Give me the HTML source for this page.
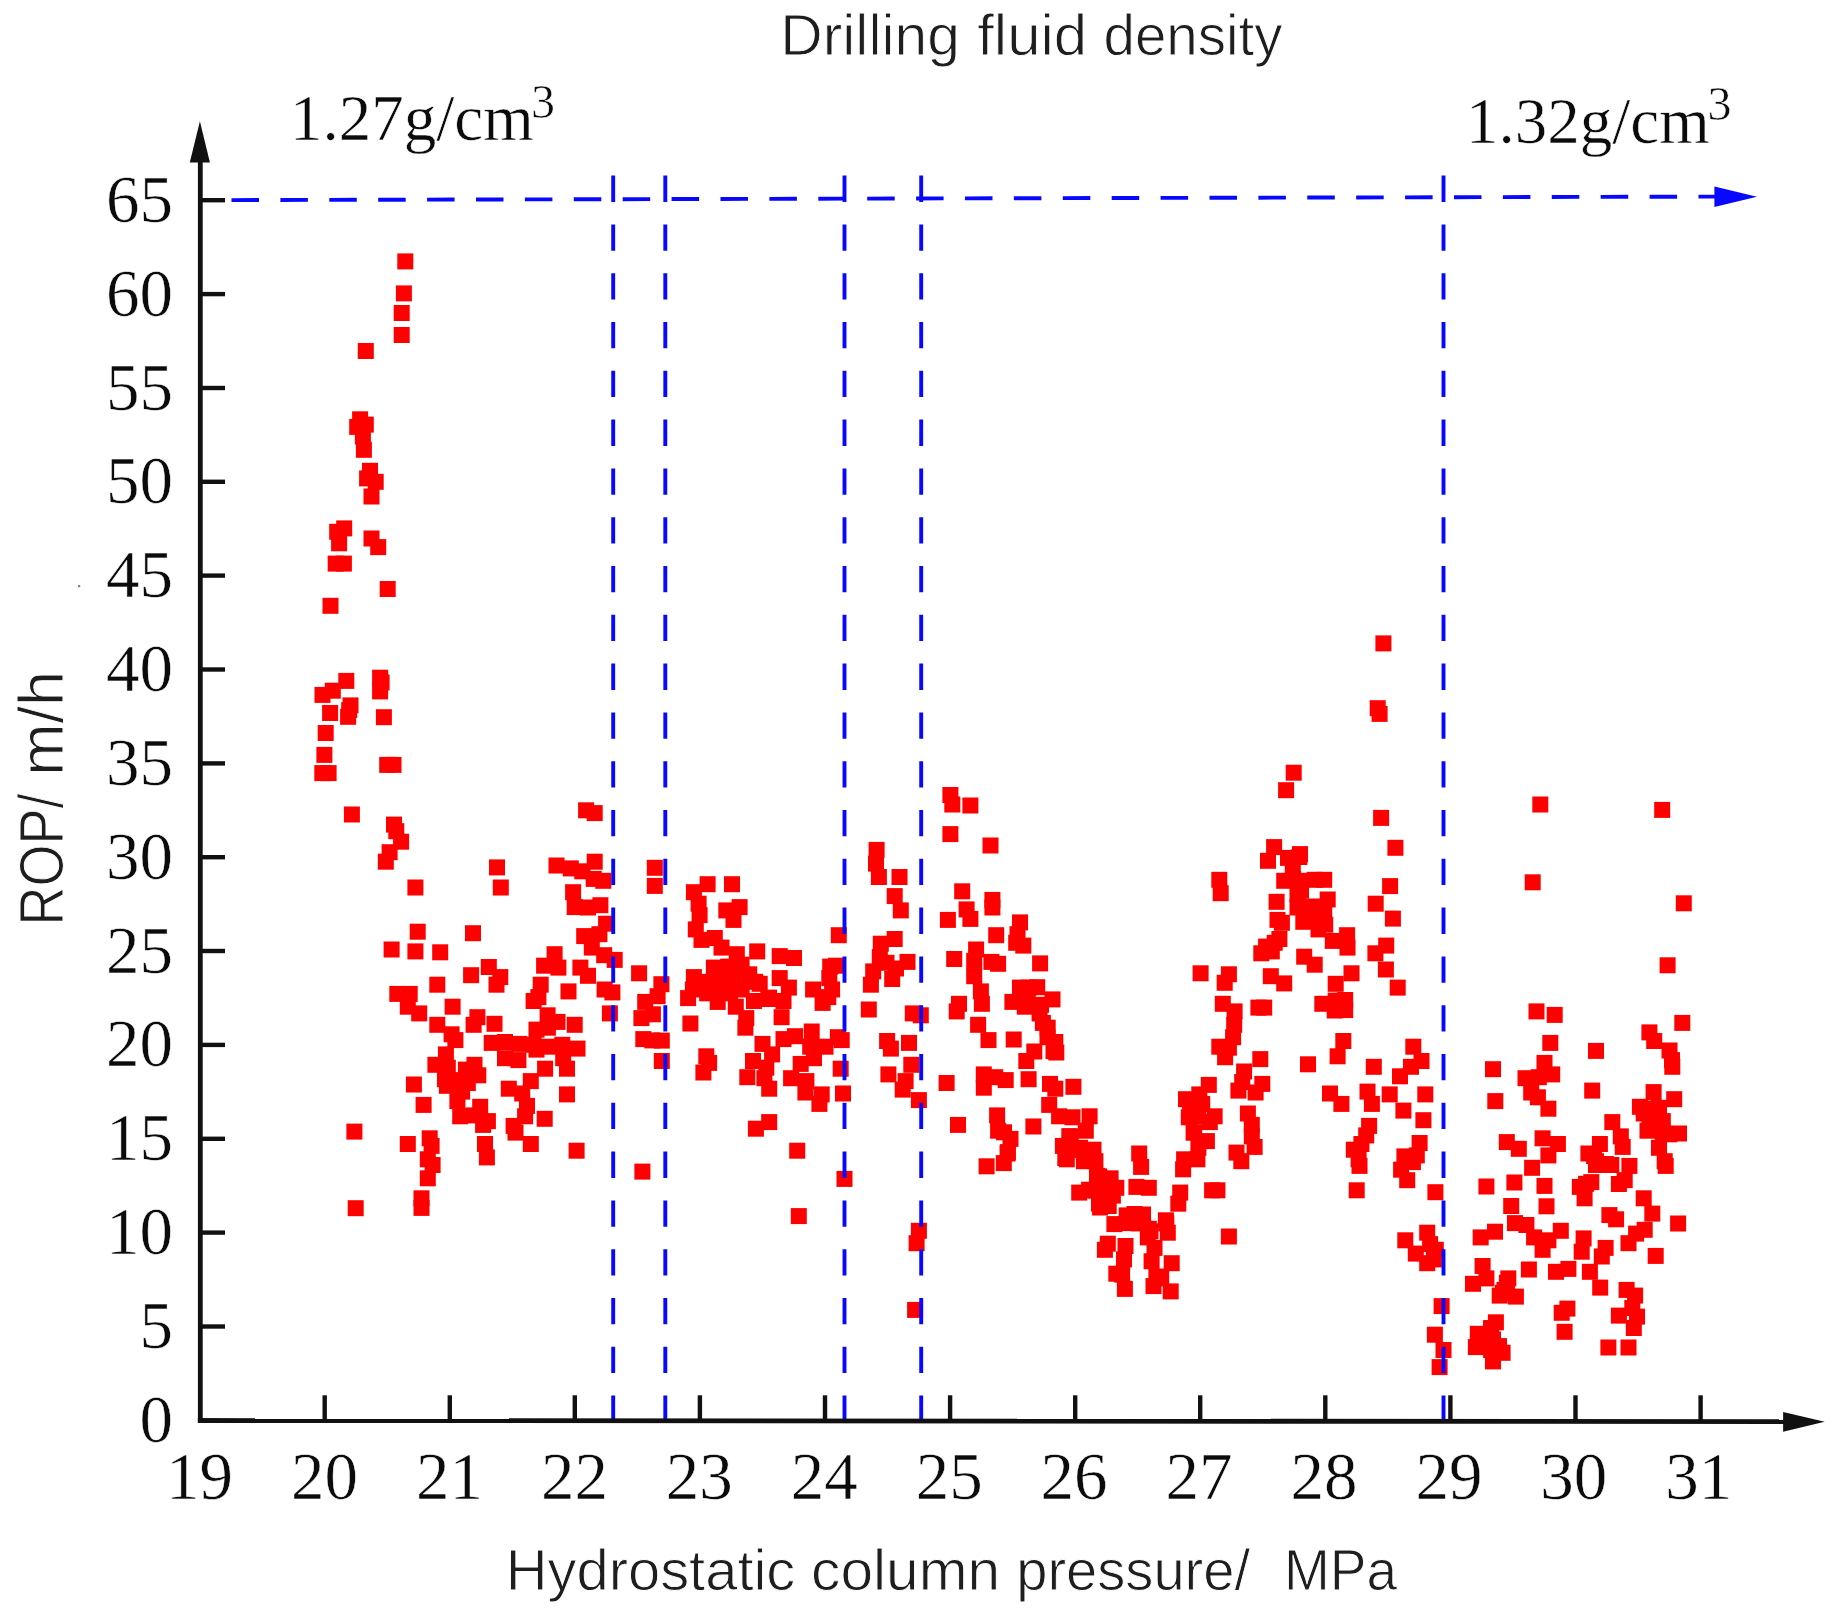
<!DOCTYPE html>
<html><head><meta charset="utf-8"><title>Drilling fluid density</title>
<style>
html,body{margin:0;padding:0;background:#fff;}
body{width:1835px;height:1616px;overflow:hidden;position:relative;}
svg{position:absolute;left:0;top:0;display:block;filter:blur(0.55px);}
.sans{font-family:"Liberation Sans",sans-serif;fill:#1e1e1e;stroke:#fff;stroke-width:0.9px;}
.serif{font-family:"Liberation Serif",serif;fill:#0b0b0b;stroke:#fff;stroke-width:0.5px;}
</style></head><body>
<svg width="1835" height="1616" viewBox="0 0 1835 1616">
<rect width="1835" height="1616" fill="#fff"/>

<g>
<text class="sans" x="780.3" y="55.0" font-size="58" textLength="179.6" lengthAdjust="spacingAndGlyphs">Drilling</text>
<text class="sans" x="977.2" y="55.0" font-size="58" textLength="109.9" lengthAdjust="spacingAndGlyphs">fluid</text>
<text class="sans" x="1103.5" y="55.0" font-size="58" textLength="178.9" lengthAdjust="spacingAndGlyphs">density</text>
</g>
<text class="serif" x="290" y="140" font-size="65">1.27g/cm</text><text class="serif" x="531" y="117.5" font-size="48">3</text>
<text class="serif" x="1466" y="143" font-size="65">1.32g/cm</text><text class="serif" x="1707.4" y="119.5" font-size="48">3</text>
<g>
<text class="sans" x="505.7" y="1590.0" font-size="57" textLength="289.6" lengthAdjust="spacingAndGlyphs">Hydrostatic</text>
<text class="sans" x="811.1" y="1590.0" font-size="57" textLength="189.0" lengthAdjust="spacingAndGlyphs">column</text>
<text class="sans" x="1016.2" y="1590.0" font-size="57" textLength="233.9" lengthAdjust="spacingAndGlyphs">pressure/</text>
<text class="sans" x="1283.9" y="1590.0" font-size="57" textLength="113.1" lengthAdjust="spacingAndGlyphs">MPa</text>
</g>
<g transform="translate(63,921.2) rotate(-90) scale(1,1.07)">
<text class="sans" x="-4.3" y="0.0" font-size="58" textLength="131.9" lengthAdjust="spacingAndGlyphs">ROP/</text>
<text class="sans" x="145.4" y="0.0" font-size="58" textLength="104.9" lengthAdjust="spacingAndGlyphs">m/h</text>
</g>
<text class="serif" x="173" y="1441.8" font-size="67" text-anchor="end">0</text>
<text class="serif" x="173" y="1348.0" font-size="67" text-anchor="end">5</text>
<text class="serif" x="173" y="1254.1" font-size="67" text-anchor="end">10</text>
<text class="serif" x="173" y="1160.2" font-size="67" text-anchor="end">15</text>
<text class="serif" x="173" y="1066.4" font-size="67" text-anchor="end">20</text>
<text class="serif" x="173" y="972.5" font-size="67" text-anchor="end">25</text>
<text class="serif" x="173" y="878.7" font-size="67" text-anchor="end">30</text>
<text class="serif" x="173" y="784.9" font-size="67" text-anchor="end">35</text>
<text class="serif" x="173" y="691.0" font-size="67" text-anchor="end">40</text>
<text class="serif" x="173" y="597.1" font-size="67" text-anchor="end">45</text>
<text class="serif" x="173" y="503.3" font-size="67" text-anchor="end">50</text>
<text class="serif" x="173" y="409.5" font-size="67" text-anchor="end">55</text>
<text class="serif" x="173" y="315.6" font-size="67" text-anchor="end">60</text>
<text class="serif" x="173" y="221.8" font-size="67" text-anchor="end">65</text>
<text class="serif" x="199.6" y="1499" font-size="67" text-anchor="middle">19</text>
<text class="serif" x="324.5" y="1499" font-size="67" text-anchor="middle">20</text>
<text class="serif" x="449.5" y="1499" font-size="67" text-anchor="middle">21</text>
<text class="serif" x="574.4" y="1499" font-size="67" text-anchor="middle">22</text>
<text class="serif" x="699.3" y="1499" font-size="67" text-anchor="middle">23</text>
<text class="serif" x="824.2" y="1499" font-size="67" text-anchor="middle">24</text>
<text class="serif" x="949.2" y="1499" font-size="67" text-anchor="middle">25</text>
<text class="serif" x="1074.1" y="1499" font-size="67" text-anchor="middle">26</text>
<text class="serif" x="1199.0" y="1499" font-size="67" text-anchor="middle">27</text>
<text class="serif" x="1324.0" y="1499" font-size="67" text-anchor="middle">28</text>
<text class="serif" x="1448.9" y="1499" font-size="67" text-anchor="middle">29</text>
<text class="serif" x="1573.8" y="1499" font-size="67" text-anchor="middle">30</text>
<text class="serif" x="1698.8" y="1499" font-size="67" text-anchor="middle">31</text>
<g fill="#ff0000">
<rect x="397.3" y="253.4" width="16.0" height="16.0"/>
<rect x="395.9" y="285.4" width="16.0" height="16.0"/>
<rect x="393.7" y="305.0" width="16.0" height="16.0"/>
<rect x="393.7" y="327.0" width="16.0" height="16.0"/>
<rect x="357.8" y="343.0" width="16.0" height="16.0"/>
<rect x="352.1" y="411.3" width="16.0" height="16.0"/>
<rect x="357.8" y="416.6" width="16.0" height="16.0"/>
<rect x="349.2" y="418.9" width="16.0" height="16.0"/>
<rect x="354.9" y="428.5" width="16.0" height="16.0"/>
<rect x="355.9" y="441.8" width="16.0" height="16.0"/>
<rect x="362.0" y="462.8" width="16.0" height="16.0"/>
<rect x="359.1" y="470.4" width="16.0" height="16.0"/>
<rect x="367.7" y="473.8" width="16.0" height="16.0"/>
<rect x="363.5" y="488.5" width="16.0" height="16.0"/>
<rect x="336.2" y="520.4" width="16.0" height="16.0"/>
<rect x="329.2" y="523.8" width="16.0" height="16.0"/>
<rect x="331.1" y="535.3" width="16.0" height="16.0"/>
<rect x="363.5" y="530.5" width="16.0" height="16.0"/>
<rect x="370.2" y="539.1" width="16.0" height="16.0"/>
<rect x="327.7" y="555.6" width="16.0" height="16.0"/>
<rect x="335.9" y="555.6" width="16.0" height="16.0"/>
<rect x="379.7" y="581.0" width="16.0" height="16.0"/>
<rect x="322.5" y="597.8" width="16.0" height="16.0"/>
<rect x="338.3" y="672.9" width="16.0" height="16.0"/>
<rect x="324.8" y="682.7" width="16.0" height="16.0"/>
<rect x="314.5" y="686.9" width="16.0" height="16.0"/>
<rect x="372.1" y="669.7" width="16.0" height="16.0"/>
<rect x="373.6" y="674.5" width="16.0" height="16.0"/>
<rect x="372.1" y="683.4" width="16.0" height="16.0"/>
<rect x="342.5" y="697.4" width="16.0" height="16.0"/>
<rect x="341.2" y="702.1" width="16.0" height="16.0"/>
<rect x="340.1" y="708.8" width="16.0" height="16.0"/>
<rect x="322.1" y="705.0" width="16.0" height="16.0"/>
<rect x="375.9" y="709.2" width="16.0" height="16.0"/>
<rect x="317.7" y="725.0" width="16.0" height="16.0"/>
<rect x="316.4" y="746.9" width="16.0" height="16.0"/>
<rect x="314.3" y="765.1" width="16.0" height="16.0"/>
<rect x="320.6" y="765.1" width="16.0" height="16.0"/>
<rect x="379.2" y="756.9" width="16.0" height="16.0"/>
<rect x="385.5" y="756.9" width="16.0" height="16.0"/>
<rect x="343.9" y="806.5" width="16.0" height="16.0"/>
<rect x="578.1" y="802.3" width="16.0" height="16.0"/>
<rect x="586.7" y="805.1" width="16.0" height="16.0"/>
<rect x="386.0" y="816.6" width="16.0" height="16.0"/>
<rect x="388.3" y="823.2" width="16.0" height="16.0"/>
<rect x="393.1" y="833.7" width="16.0" height="16.0"/>
<rect x="381.6" y="844.2" width="16.0" height="16.0"/>
<rect x="377.8" y="853.7" width="16.0" height="16.0"/>
<rect x="489.0" y="859.4" width="16.0" height="16.0"/>
<rect x="407.4" y="879.5" width="16.0" height="16.0"/>
<rect x="492.8" y="879.5" width="16.0" height="16.0"/>
<rect x="548.5" y="857.5" width="16.0" height="16.0"/>
<rect x="562.8" y="860.4" width="16.0" height="16.0"/>
<rect x="586.7" y="853.7" width="16.0" height="16.0"/>
<rect x="574.3" y="863.3" width="16.0" height="16.0"/>
<rect x="585.7" y="870.9" width="16.0" height="16.0"/>
<rect x="595.3" y="872.8" width="16.0" height="16.0"/>
<rect x="565.1" y="884.2" width="16.0" height="16.0"/>
<rect x="566.7" y="899.1" width="16.0" height="16.0"/>
<rect x="580.0" y="899.5" width="16.0" height="16.0"/>
<rect x="592.4" y="897.2" width="16.0" height="16.0"/>
<rect x="598.1" y="915.7" width="16.0" height="16.0"/>
<rect x="576.2" y="928.1" width="16.0" height="16.0"/>
<rect x="591.4" y="926.2" width="16.0" height="16.0"/>
<rect x="583.8" y="939.6" width="16.0" height="16.0"/>
<rect x="596.2" y="947.2" width="16.0" height="16.0"/>
<rect x="606.7" y="951.9" width="16.0" height="16.0"/>
<rect x="631.1" y="965.3" width="16.0" height="16.0"/>
<rect x="637.2" y="993.9" width="16.0" height="16.0"/>
<rect x="633.4" y="1010.1" width="16.0" height="16.0"/>
<rect x="635.3" y="1031.1" width="16.0" height="16.0"/>
<rect x="409.7" y="923.7" width="16.0" height="16.0"/>
<rect x="465.0" y="925.2" width="16.0" height="16.0"/>
<rect x="383.6" y="941.5" width="16.0" height="16.0"/>
<rect x="407.4" y="943.4" width="16.0" height="16.0"/>
<rect x="432.2" y="944.3" width="16.0" height="16.0"/>
<rect x="546.6" y="946.2" width="16.0" height="16.0"/>
<rect x="536.1" y="957.7" width="16.0" height="16.0"/>
<rect x="550.4" y="959.6" width="16.0" height="16.0"/>
<rect x="572.4" y="959.6" width="16.0" height="16.0"/>
<rect x="580.0" y="967.8" width="16.0" height="16.0"/>
<rect x="480.8" y="959.0" width="16.0" height="16.0"/>
<rect x="463.1" y="967.2" width="16.0" height="16.0"/>
<rect x="492.3" y="969.1" width="16.0" height="16.0"/>
<rect x="488.5" y="976.7" width="16.0" height="16.0"/>
<rect x="429.3" y="976.7" width="16.0" height="16.0"/>
<rect x="532.7" y="976.7" width="16.0" height="16.0"/>
<rect x="560.5" y="983.4" width="16.0" height="16.0"/>
<rect x="596.6" y="981.5" width="16.0" height="16.0"/>
<rect x="604.4" y="984.4" width="16.0" height="16.0"/>
<rect x="525.6" y="993.0" width="16.0" height="16.0"/>
<rect x="530.4" y="989.1" width="16.0" height="16.0"/>
<rect x="389.3" y="985.9" width="16.0" height="16.0"/>
<rect x="401.7" y="985.9" width="16.0" height="16.0"/>
<rect x="399.8" y="998.7" width="16.0" height="16.0"/>
<rect x="411.2" y="1005.4" width="16.0" height="16.0"/>
<rect x="444.6" y="998.7" width="16.0" height="16.0"/>
<rect x="601.9" y="1005.4" width="16.0" height="16.0"/>
<rect x="469.4" y="1009.2" width="16.0" height="16.0"/>
<rect x="465.6" y="1016.8" width="16.0" height="16.0"/>
<rect x="486.5" y="1015.8" width="16.0" height="16.0"/>
<rect x="539.6" y="1007.3" width="16.0" height="16.0"/>
<rect x="549.5" y="1013.9" width="16.0" height="16.0"/>
<rect x="566.7" y="1016.8" width="16.0" height="16.0"/>
<rect x="528.5" y="1021.6" width="16.0" height="16.0"/>
<rect x="539.9" y="1019.7" width="16.0" height="16.0"/>
<rect x="429.3" y="1016.8" width="16.0" height="16.0"/>
<rect x="443.6" y="1026.3" width="16.0" height="16.0"/>
<rect x="447.4" y="1032.1" width="16.0" height="16.0"/>
<rect x="483.7" y="1034.9" width="16.0" height="16.0"/>
<rect x="497.0" y="1034.0" width="16.0" height="16.0"/>
<rect x="511.3" y="1035.9" width="16.0" height="16.0"/>
<rect x="525.6" y="1036.8" width="16.0" height="16.0"/>
<rect x="539.9" y="1038.7" width="16.0" height="16.0"/>
<rect x="554.3" y="1036.8" width="16.0" height="16.0"/>
<rect x="569.5" y="1040.6" width="16.0" height="16.0"/>
<rect x="497.0" y="1050.2" width="16.0" height="16.0"/>
<rect x="510.4" y="1052.1" width="16.0" height="16.0"/>
<rect x="528.5" y="1041.6" width="16.0" height="16.0"/>
<rect x="555.2" y="1050.2" width="16.0" height="16.0"/>
<rect x="537.1" y="1060.7" width="16.0" height="16.0"/>
<rect x="559.0" y="1060.7" width="16.0" height="16.0"/>
<rect x="437.9" y="1046.4" width="16.0" height="16.0"/>
<rect x="427.4" y="1056.8" width="16.0" height="16.0"/>
<rect x="439.8" y="1059.7" width="16.0" height="16.0"/>
<rect x="466.5" y="1056.8" width="16.0" height="16.0"/>
<rect x="457.9" y="1061.6" width="16.0" height="16.0"/>
<rect x="470.3" y="1067.3" width="16.0" height="16.0"/>
<rect x="437.0" y="1071.2" width="16.0" height="16.0"/>
<rect x="448.4" y="1072.1" width="16.0" height="16.0"/>
<rect x="459.8" y="1075.0" width="16.0" height="16.0"/>
<rect x="438.9" y="1077.8" width="16.0" height="16.0"/>
<rect x="454.1" y="1083.6" width="16.0" height="16.0"/>
<rect x="449.4" y="1093.1" width="16.0" height="16.0"/>
<rect x="472.2" y="1098.8" width="16.0" height="16.0"/>
<rect x="452.2" y="1108.3" width="16.0" height="16.0"/>
<rect x="465.6" y="1107.4" width="16.0" height="16.0"/>
<rect x="479.9" y="1113.1" width="16.0" height="16.0"/>
<rect x="475.1" y="1116.9" width="16.0" height="16.0"/>
<rect x="405.9" y="1076.5" width="16.0" height="16.0"/>
<rect x="415.6" y="1096.9" width="16.0" height="16.0"/>
<rect x="522.8" y="1073.1" width="16.0" height="16.0"/>
<rect x="500.8" y="1080.7" width="16.0" height="16.0"/>
<rect x="514.2" y="1085.5" width="16.0" height="16.0"/>
<rect x="519.0" y="1097.9" width="16.0" height="16.0"/>
<rect x="517.1" y="1108.3" width="16.0" height="16.0"/>
<rect x="505.6" y="1117.9" width="16.0" height="16.0"/>
<rect x="507.5" y="1124.6" width="16.0" height="16.0"/>
<rect x="559.0" y="1086.4" width="16.0" height="16.0"/>
<rect x="536.7" y="1110.8" width="16.0" height="16.0"/>
<rect x="522.8" y="1136.0" width="16.0" height="16.0"/>
<rect x="568.6" y="1142.7" width="16.0" height="16.0"/>
<rect x="346.4" y="1123.6" width="16.0" height="16.0"/>
<rect x="399.8" y="1136.0" width="16.0" height="16.0"/>
<rect x="421.7" y="1130.3" width="16.0" height="16.0"/>
<rect x="423.6" y="1137.9" width="16.0" height="16.0"/>
<rect x="419.8" y="1151.3" width="16.0" height="16.0"/>
<rect x="477.0" y="1136.0" width="16.0" height="16.0"/>
<rect x="478.9" y="1149.4" width="16.0" height="16.0"/>
<rect x="347.7" y="1200.2" width="16.0" height="16.0"/>
<rect x="424.6" y="1157.0" width="16.0" height="16.0"/>
<rect x="419.8" y="1170.3" width="16.0" height="16.0"/>
<rect x="413.5" y="1190.3" width="16.0" height="16.0"/>
<rect x="413.5" y="1199.9" width="16.0" height="16.0"/>
<rect x="634.4" y="1163.6" width="16.0" height="16.0"/>
<rect x="646.8" y="859.8" width="16.0" height="16.0"/>
<rect x="646.8" y="877.9" width="16.0" height="16.0"/>
<rect x="653.4" y="976.2" width="16.0" height="16.0"/>
<rect x="649.6" y="988.2" width="16.0" height="16.0"/>
<rect x="644.9" y="1006.3" width="16.0" height="16.0"/>
<rect x="653.8" y="1032.6" width="16.0" height="16.0"/>
<rect x="653.8" y="1053.0" width="16.0" height="16.0"/>
<rect x="699.6" y="876.2" width="16.0" height="16.0"/>
<rect x="724.0" y="876.2" width="16.0" height="16.0"/>
<rect x="685.9" y="884.2" width="16.0" height="16.0"/>
<rect x="690.6" y="895.7" width="16.0" height="16.0"/>
<rect x="691.6" y="907.1" width="16.0" height="16.0"/>
<rect x="687.8" y="921.4" width="16.0" height="16.0"/>
<rect x="693.5" y="931.9" width="16.0" height="16.0"/>
<rect x="706.8" y="930.0" width="16.0" height="16.0"/>
<rect x="713.5" y="939.6" width="16.0" height="16.0"/>
<rect x="731.6" y="899.1" width="16.0" height="16.0"/>
<rect x="718.3" y="902.4" width="16.0" height="16.0"/>
<rect x="725.5" y="911.9" width="16.0" height="16.0"/>
<rect x="728.8" y="946.2" width="16.0" height="16.0"/>
<rect x="749.2" y="943.4" width="16.0" height="16.0"/>
<rect x="771.7" y="948.1" width="16.0" height="16.0"/>
<rect x="786.0" y="950.0" width="16.0" height="16.0"/>
<rect x="705.9" y="959.6" width="16.0" height="16.0"/>
<rect x="720.2" y="958.6" width="16.0" height="16.0"/>
<rect x="733.6" y="956.7" width="16.0" height="16.0"/>
<rect x="685.9" y="969.1" width="16.0" height="16.0"/>
<rect x="741.2" y="966.3" width="16.0" height="16.0"/>
<rect x="751.7" y="975.8" width="16.0" height="16.0"/>
<rect x="699.2" y="973.9" width="16.0" height="16.0"/>
<rect x="712.6" y="970.1" width="16.0" height="16.0"/>
<rect x="725.9" y="972.0" width="16.0" height="16.0"/>
<rect x="680.1" y="990.1" width="16.0" height="16.0"/>
<rect x="684.9" y="981.5" width="16.0" height="16.0"/>
<rect x="699.2" y="985.3" width="16.0" height="16.0"/>
<rect x="709.7" y="993.9" width="16.0" height="16.0"/>
<rect x="722.1" y="985.3" width="16.0" height="16.0"/>
<rect x="727.8" y="998.7" width="16.0" height="16.0"/>
<rect x="745.9" y="993.0" width="16.0" height="16.0"/>
<rect x="733.6" y="981.5" width="16.0" height="16.0"/>
<rect x="771.7" y="970.1" width="16.0" height="16.0"/>
<rect x="780.9" y="979.6" width="16.0" height="16.0"/>
<rect x="775.5" y="993.0" width="16.0" height="16.0"/>
<rect x="760.3" y="991.0" width="16.0" height="16.0"/>
<rect x="773.6" y="1009.2" width="16.0" height="16.0"/>
<rect x="738.3" y="1010.1" width="16.0" height="16.0"/>
<rect x="737.4" y="1019.7" width="16.0" height="16.0"/>
<rect x="682.4" y="1015.5" width="16.0" height="16.0"/>
<rect x="822.2" y="958.6" width="16.0" height="16.0"/>
<rect x="828.0" y="957.7" width="16.0" height="16.0"/>
<rect x="821.3" y="970.1" width="16.0" height="16.0"/>
<rect x="805.1" y="981.5" width="16.0" height="16.0"/>
<rect x="824.1" y="981.5" width="16.0" height="16.0"/>
<rect x="814.6" y="994.9" width="16.0" height="16.0"/>
<rect x="820.3" y="989.1" width="16.0" height="16.0"/>
<rect x="830.8" y="927.2" width="16.0" height="16.0"/>
<rect x="803.7" y="1023.5" width="16.0" height="16.0"/>
<rect x="787.0" y="1028.2" width="16.0" height="16.0"/>
<rect x="775.5" y="1031.1" width="16.0" height="16.0"/>
<rect x="754.5" y="1035.9" width="16.0" height="16.0"/>
<rect x="829.9" y="1029.2" width="16.0" height="16.0"/>
<rect x="833.7" y="1032.1" width="16.0" height="16.0"/>
<rect x="817.5" y="1038.7" width="16.0" height="16.0"/>
<rect x="802.2" y="1038.7" width="16.0" height="16.0"/>
<rect x="764.1" y="1046.4" width="16.0" height="16.0"/>
<rect x="806.0" y="1050.2" width="16.0" height="16.0"/>
<rect x="792.7" y="1055.9" width="16.0" height="16.0"/>
<rect x="745.0" y="1053.0" width="16.0" height="16.0"/>
<rect x="758.3" y="1059.7" width="16.0" height="16.0"/>
<rect x="739.3" y="1069.2" width="16.0" height="16.0"/>
<rect x="756.4" y="1070.2" width="16.0" height="16.0"/>
<rect x="761.2" y="1080.7" width="16.0" height="16.0"/>
<rect x="783.1" y="1070.2" width="16.0" height="16.0"/>
<rect x="798.4" y="1073.1" width="16.0" height="16.0"/>
<rect x="797.4" y="1084.5" width="16.0" height="16.0"/>
<rect x="813.7" y="1086.4" width="16.0" height="16.0"/>
<rect x="811.4" y="1095.9" width="16.0" height="16.0"/>
<rect x="832.7" y="1060.7" width="16.0" height="16.0"/>
<rect x="835.0" y="1085.5" width="16.0" height="16.0"/>
<rect x="698.3" y="1048.3" width="16.0" height="16.0"/>
<rect x="701.1" y="1054.9" width="16.0" height="16.0"/>
<rect x="695.4" y="1064.5" width="16.0" height="16.0"/>
<rect x="761.2" y="1114.1" width="16.0" height="16.0"/>
<rect x="747.9" y="1120.7" width="16.0" height="16.0"/>
<rect x="789.2" y="1142.7" width="16.0" height="16.0"/>
<rect x="868.0" y="855.6" width="16.0" height="16.0"/>
<rect x="870.9" y="869.0" width="16.0" height="16.0"/>
<rect x="891.5" y="869.0" width="16.0" height="16.0"/>
<rect x="886.7" y="888.1" width="16.0" height="16.0"/>
<rect x="892.8" y="902.4" width="16.0" height="16.0"/>
<rect x="886.7" y="931.0" width="16.0" height="16.0"/>
<rect x="872.8" y="935.7" width="16.0" height="16.0"/>
<rect x="871.8" y="949.1" width="16.0" height="16.0"/>
<rect x="865.2" y="963.4" width="16.0" height="16.0"/>
<rect x="899.5" y="953.9" width="16.0" height="16.0"/>
<rect x="888.0" y="960.5" width="16.0" height="16.0"/>
<rect x="878.5" y="954.8" width="16.0" height="16.0"/>
<rect x="884.2" y="971.0" width="16.0" height="16.0"/>
<rect x="862.9" y="976.7" width="16.0" height="16.0"/>
<rect x="860.8" y="1001.5" width="16.0" height="16.0"/>
<rect x="904.8" y="1005.4" width="16.0" height="16.0"/>
<rect x="912.8" y="1007.3" width="16.0" height="16.0"/>
<rect x="879.1" y="1033.0" width="16.0" height="16.0"/>
<rect x="882.9" y="1040.6" width="16.0" height="16.0"/>
<rect x="901.0" y="1034.9" width="16.0" height="16.0"/>
<rect x="903.3" y="1056.8" width="16.0" height="16.0"/>
<rect x="880.4" y="1066.4" width="16.0" height="16.0"/>
<rect x="897.6" y="1073.1" width="16.0" height="16.0"/>
<rect x="894.7" y="1081.6" width="16.0" height="16.0"/>
<rect x="910.9" y="1092.1" width="16.0" height="16.0"/>
<rect x="954.2" y="883.3" width="16.0" height="16.0"/>
<rect x="984.4" y="891.9" width="16.0" height="16.0"/>
<rect x="958.6" y="901.4" width="16.0" height="16.0"/>
<rect x="984.4" y="899.5" width="16.0" height="16.0"/>
<rect x="939.9" y="911.9" width="16.0" height="16.0"/>
<rect x="962.4" y="910.9" width="16.0" height="16.0"/>
<rect x="988.2" y="927.2" width="16.0" height="16.0"/>
<rect x="968.1" y="941.5" width="16.0" height="16.0"/>
<rect x="946.2" y="951.0" width="16.0" height="16.0"/>
<rect x="966.2" y="952.9" width="16.0" height="16.0"/>
<rect x="983.4" y="953.9" width="16.0" height="16.0"/>
<rect x="966.2" y="968.2" width="16.0" height="16.0"/>
<rect x="972.9" y="983.4" width="16.0" height="16.0"/>
<rect x="973.9" y="995.8" width="16.0" height="16.0"/>
<rect x="951.0" y="995.8" width="16.0" height="16.0"/>
<rect x="948.7" y="1003.4" width="16.0" height="16.0"/>
<rect x="970.1" y="1016.8" width="16.0" height="16.0"/>
<rect x="980.5" y="1032.1" width="16.0" height="16.0"/>
<rect x="938.6" y="1075.0" width="16.0" height="16.0"/>
<rect x="975.8" y="1066.4" width="16.0" height="16.0"/>
<rect x="987.2" y="1069.2" width="16.0" height="16.0"/>
<rect x="975.8" y="1079.7" width="16.0" height="16.0"/>
<rect x="950.0" y="1116.9" width="16.0" height="16.0"/>
<rect x="989.1" y="1107.4" width="16.0" height="16.0"/>
<rect x="990.1" y="1122.7" width="16.0" height="16.0"/>
<rect x="942.4" y="787.0" width="16.0" height="16.0"/>
<rect x="944.3" y="796.5" width="16.0" height="16.0"/>
<rect x="962.4" y="797.5" width="16.0" height="16.0"/>
<rect x="942.4" y="826.1" width="16.0" height="16.0"/>
<rect x="982.5" y="837.5" width="16.0" height="16.0"/>
<rect x="868.6" y="841.9" width="16.0" height="16.0"/>
<rect x="836.5" y="1170.9" width="16.0" height="16.0"/>
<rect x="790.8" y="1208.1" width="16.0" height="16.0"/>
<rect x="910.9" y="1222.8" width="16.0" height="16.0"/>
<rect x="908.6" y="1235.2" width="16.0" height="16.0"/>
<rect x="907.1" y="1301.9" width="16.0" height="16.0"/>
<rect x="978.6" y="1158.3" width="16.0" height="16.0"/>
<rect x="990.1" y="955.8" width="16.0" height="16.0"/>
<rect x="997.7" y="1072.1" width="16.0" height="16.0"/>
<rect x="1002.5" y="1130.9" width="16.0" height="16.0"/>
<rect x="999.6" y="1145.5" width="16.0" height="16.0"/>
<rect x="995.8" y="1155.1" width="16.0" height="16.0"/>
<rect x="1012.0" y="914.4" width="16.0" height="16.0"/>
<rect x="1009.5" y="926.2" width="16.0" height="16.0"/>
<rect x="1015.3" y="937.6" width="16.0" height="16.0"/>
<rect x="1008.2" y="934.8" width="16.0" height="16.0"/>
<rect x="1032.1" y="955.4" width="16.0" height="16.0"/>
<rect x="1012.0" y="979.6" width="16.0" height="16.0"/>
<rect x="1029.2" y="979.2" width="16.0" height="16.0"/>
<rect x="1004.4" y="993.9" width="16.0" height="16.0"/>
<rect x="1044.5" y="991.4" width="16.0" height="16.0"/>
<rect x="1016.8" y="998.7" width="16.0" height="16.0"/>
<rect x="1033.0" y="996.8" width="16.0" height="16.0"/>
<rect x="1034.9" y="1014.9" width="16.0" height="16.0"/>
<rect x="1039.7" y="1019.7" width="16.0" height="16.0"/>
<rect x="1005.7" y="1031.5" width="16.0" height="16.0"/>
<rect x="1047.3" y="1034.0" width="16.0" height="16.0"/>
<rect x="1026.3" y="1043.5" width="16.0" height="16.0"/>
<rect x="1048.3" y="1044.5" width="16.0" height="16.0"/>
<rect x="1018.3" y="1053.0" width="16.0" height="16.0"/>
<rect x="1020.6" y="1071.2" width="16.0" height="16.0"/>
<rect x="1042.0" y="1075.9" width="16.0" height="16.0"/>
<rect x="1047.3" y="1080.7" width="16.0" height="16.0"/>
<rect x="1065.4" y="1078.8" width="16.0" height="16.0"/>
<rect x="1041.2" y="1096.9" width="16.0" height="16.0"/>
<rect x="1051.1" y="1108.3" width="16.0" height="16.0"/>
<rect x="1064.5" y="1109.3" width="16.0" height="16.0"/>
<rect x="1081.6" y="1108.3" width="16.0" height="16.0"/>
<rect x="1025.4" y="1118.5" width="16.0" height="16.0"/>
<rect x="1077.8" y="1122.7" width="16.0" height="16.0"/>
<rect x="1062.6" y="1128.4" width="16.0" height="16.0"/>
<rect x="1054.9" y="1137.9" width="16.0" height="16.0"/>
<rect x="1072.1" y="1139.8" width="16.0" height="16.0"/>
<rect x="1085.5" y="1141.7" width="16.0" height="16.0"/>
<rect x="1058.8" y="1151.3" width="16.0" height="16.0"/>
<rect x="1075.9" y="1153.2" width="16.0" height="16.0"/>
<rect x="1087.4" y="1153.2" width="16.0" height="16.0"/>
<rect x="1131.2" y="1145.5" width="16.0" height="16.0"/>
<rect x="1211.3" y="871.8" width="16.0" height="16.0"/>
<rect x="1212.7" y="885.2" width="16.0" height="16.0"/>
<rect x="1192.6" y="965.3" width="16.0" height="16.0"/>
<rect x="1220.9" y="966.3" width="16.0" height="16.0"/>
<rect x="1216.7" y="974.8" width="16.0" height="16.0"/>
<rect x="1214.8" y="995.8" width="16.0" height="16.0"/>
<rect x="1226.6" y="1003.4" width="16.0" height="16.0"/>
<rect x="1226.2" y="1016.8" width="16.0" height="16.0"/>
<rect x="1225.1" y="1029.2" width="16.0" height="16.0"/>
<rect x="1211.3" y="1038.7" width="16.0" height="16.0"/>
<rect x="1220.9" y="1039.7" width="16.0" height="16.0"/>
<rect x="1217.1" y="1049.2" width="16.0" height="16.0"/>
<rect x="1250.4" y="999.6" width="16.0" height="16.0"/>
<rect x="1256.2" y="999.6" width="16.0" height="16.0"/>
<rect x="1252.3" y="1051.1" width="16.0" height="16.0"/>
<rect x="1236.1" y="1063.5" width="16.0" height="16.0"/>
<rect x="1234.2" y="1074.0" width="16.0" height="16.0"/>
<rect x="1254.3" y="1075.9" width="16.0" height="16.0"/>
<rect x="1230.4" y="1082.6" width="16.0" height="16.0"/>
<rect x="1247.6" y="1084.5" width="16.0" height="16.0"/>
<rect x="1200.8" y="1076.9" width="16.0" height="16.0"/>
<rect x="1191.3" y="1086.4" width="16.0" height="16.0"/>
<rect x="1178.0" y="1091.2" width="16.0" height="16.0"/>
<rect x="1194.2" y="1095.9" width="16.0" height="16.0"/>
<rect x="1180.8" y="1109.3" width="16.0" height="16.0"/>
<rect x="1206.6" y="1108.3" width="16.0" height="16.0"/>
<rect x="1201.8" y="1114.1" width="16.0" height="16.0"/>
<rect x="1185.6" y="1124.6" width="16.0" height="16.0"/>
<rect x="1198.9" y="1133.1" width="16.0" height="16.0"/>
<rect x="1190.4" y="1139.8" width="16.0" height="16.0"/>
<rect x="1176.1" y="1151.3" width="16.0" height="16.0"/>
<rect x="1189.4" y="1151.3" width="16.0" height="16.0"/>
<rect x="1239.9" y="1105.5" width="16.0" height="16.0"/>
<rect x="1243.8" y="1116.9" width="16.0" height="16.0"/>
<rect x="1243.8" y="1128.4" width="16.0" height="16.0"/>
<rect x="1246.6" y="1138.9" width="16.0" height="16.0"/>
<rect x="1228.5" y="1144.6" width="16.0" height="16.0"/>
<rect x="1233.3" y="1153.2" width="16.0" height="16.0"/>
<rect x="1260.0" y="852.8" width="16.0" height="16.0"/>
<rect x="1280.0" y="849.9" width="16.0" height="16.0"/>
<rect x="1291.4" y="849.0" width="16.0" height="16.0"/>
<rect x="1284.8" y="863.3" width="16.0" height="16.0"/>
<rect x="1276.2" y="872.8" width="16.0" height="16.0"/>
<rect x="1291.4" y="872.8" width="16.0" height="16.0"/>
<rect x="1306.7" y="871.8" width="16.0" height="16.0"/>
<rect x="1316.2" y="871.8" width="16.0" height="16.0"/>
<rect x="1268.6" y="893.8" width="16.0" height="16.0"/>
<rect x="1289.5" y="886.1" width="16.0" height="16.0"/>
<rect x="1319.7" y="891.5" width="16.0" height="16.0"/>
<rect x="1289.5" y="899.5" width="16.0" height="16.0"/>
<rect x="1316.2" y="903.3" width="16.0" height="16.0"/>
<rect x="1269.5" y="911.9" width="16.0" height="16.0"/>
<rect x="1273.9" y="914.8" width="16.0" height="16.0"/>
<rect x="1295.3" y="913.8" width="16.0" height="16.0"/>
<rect x="1310.5" y="921.4" width="16.0" height="16.0"/>
<rect x="1317.2" y="916.7" width="16.0" height="16.0"/>
<rect x="1324.8" y="932.9" width="16.0" height="16.0"/>
<rect x="1339.1" y="927.2" width="16.0" height="16.0"/>
<rect x="1339.5" y="939.6" width="16.0" height="16.0"/>
<rect x="1266.7" y="934.8" width="16.0" height="16.0"/>
<rect x="1271.4" y="931.0" width="16.0" height="16.0"/>
<rect x="1258.1" y="938.6" width="16.0" height="16.0"/>
<rect x="1253.3" y="945.3" width="16.0" height="16.0"/>
<rect x="1263.8" y="943.4" width="16.0" height="16.0"/>
<rect x="1296.2" y="948.7" width="16.0" height="16.0"/>
<rect x="1306.7" y="956.7" width="16.0" height="16.0"/>
<rect x="1262.8" y="968.2" width="16.0" height="16.0"/>
<rect x="1276.2" y="975.4" width="16.0" height="16.0"/>
<rect x="1327.7" y="975.8" width="16.0" height="16.0"/>
<rect x="1314.3" y="995.8" width="16.0" height="16.0"/>
<rect x="1327.7" y="992.6" width="16.0" height="16.0"/>
<rect x="1337.2" y="992.0" width="16.0" height="16.0"/>
<rect x="1326.7" y="1002.5" width="16.0" height="16.0"/>
<rect x="1337.2" y="1002.1" width="16.0" height="16.0"/>
<rect x="1335.3" y="1033.0" width="16.0" height="16.0"/>
<rect x="1329.6" y="1048.3" width="16.0" height="16.0"/>
<rect x="1300.0" y="1056.3" width="16.0" height="16.0"/>
<rect x="1322.0" y="1085.5" width="16.0" height="16.0"/>
<rect x="1333.4" y="1095.9" width="16.0" height="16.0"/>
<rect x="1285.7" y="764.7" width="16.0" height="16.0"/>
<rect x="1278.1" y="782.2" width="16.0" height="16.0"/>
<rect x="1266.1" y="839.1" width="16.0" height="16.0"/>
<rect x="1292.0" y="846.1" width="16.0" height="16.0"/>
<rect x="1133.1" y="1158.9" width="16.0" height="16.0"/>
<rect x="1175.1" y="1161.3" width="16.0" height="16.0"/>
<rect x="1091.2" y="1168.4" width="16.0" height="16.0"/>
<rect x="1102.6" y="1170.3" width="16.0" height="16.0"/>
<rect x="1108.3" y="1179.8" width="16.0" height="16.0"/>
<rect x="1071.2" y="1184.6" width="16.0" height="16.0"/>
<rect x="1087.4" y="1182.7" width="16.0" height="16.0"/>
<rect x="1098.8" y="1190.3" width="16.0" height="16.0"/>
<rect x="1092.1" y="1199.5" width="16.0" height="16.0"/>
<rect x="1100.7" y="1198.0" width="16.0" height="16.0"/>
<rect x="1128.4" y="1178.9" width="16.0" height="16.0"/>
<rect x="1140.8" y="1179.8" width="16.0" height="16.0"/>
<rect x="1172.2" y="1184.6" width="16.0" height="16.0"/>
<rect x="1170.3" y="1195.7" width="16.0" height="16.0"/>
<rect x="1204.1" y="1182.3" width="16.0" height="16.0"/>
<rect x="1209.4" y="1182.3" width="16.0" height="16.0"/>
<rect x="1220.9" y="1228.5" width="16.0" height="16.0"/>
<rect x="1126.5" y="1206.0" width="16.0" height="16.0"/>
<rect x="1135.0" y="1206.5" width="16.0" height="16.0"/>
<rect x="1106.4" y="1216.1" width="16.0" height="16.0"/>
<rect x="1119.8" y="1215.1" width="16.0" height="16.0"/>
<rect x="1157.9" y="1212.3" width="16.0" height="16.0"/>
<rect x="1140.8" y="1220.8" width="16.0" height="16.0"/>
<rect x="1159.8" y="1224.7" width="16.0" height="16.0"/>
<rect x="1139.8" y="1229.4" width="16.0" height="16.0"/>
<rect x="1099.8" y="1235.7" width="16.0" height="16.0"/>
<rect x="1096.9" y="1241.8" width="16.0" height="16.0"/>
<rect x="1117.5" y="1238.0" width="16.0" height="16.0"/>
<rect x="1116.0" y="1251.4" width="16.0" height="16.0"/>
<rect x="1146.5" y="1239.9" width="16.0" height="16.0"/>
<rect x="1143.6" y="1253.3" width="16.0" height="16.0"/>
<rect x="1163.7" y="1255.2" width="16.0" height="16.0"/>
<rect x="1108.3" y="1265.7" width="16.0" height="16.0"/>
<rect x="1114.1" y="1266.6" width="16.0" height="16.0"/>
<rect x="1148.4" y="1268.5" width="16.0" height="16.0"/>
<rect x="1153.2" y="1270.4" width="16.0" height="16.0"/>
<rect x="1116.9" y="1280.9" width="16.0" height="16.0"/>
<rect x="1145.5" y="1278.1" width="16.0" height="16.0"/>
<rect x="1162.7" y="1283.4" width="16.0" height="16.0"/>
<rect x="1343.5" y="965.3" width="16.0" height="16.0"/>
<rect x="1361.1" y="1117.9" width="16.0" height="16.0"/>
<rect x="1358.2" y="1127.4" width="16.0" height="16.0"/>
<rect x="1353.4" y="1136.0" width="16.0" height="16.0"/>
<rect x="1345.8" y="1141.7" width="16.0" height="16.0"/>
<rect x="1350.6" y="1151.3" width="16.0" height="16.0"/>
<rect x="1382.1" y="878.1" width="16.0" height="16.0"/>
<rect x="1367.7" y="895.7" width="16.0" height="16.0"/>
<rect x="1384.9" y="910.6" width="16.0" height="16.0"/>
<rect x="1378.2" y="937.6" width="16.0" height="16.0"/>
<rect x="1367.4" y="945.3" width="16.0" height="16.0"/>
<rect x="1377.9" y="961.5" width="16.0" height="16.0"/>
<rect x="1389.7" y="979.6" width="16.0" height="16.0"/>
<rect x="1405.3" y="1038.7" width="16.0" height="16.0"/>
<rect x="1413.5" y="1053.0" width="16.0" height="16.0"/>
<rect x="1403.0" y="1058.8" width="16.0" height="16.0"/>
<rect x="1392.0" y="1068.3" width="16.0" height="16.0"/>
<rect x="1365.8" y="1058.8" width="16.0" height="16.0"/>
<rect x="1359.5" y="1083.6" width="16.0" height="16.0"/>
<rect x="1363.9" y="1095.9" width="16.0" height="16.0"/>
<rect x="1381.7" y="1086.4" width="16.0" height="16.0"/>
<rect x="1395.4" y="1102.6" width="16.0" height="16.0"/>
<rect x="1417.3" y="1086.4" width="16.0" height="16.0"/>
<rect x="1415.4" y="1112.2" width="16.0" height="16.0"/>
<rect x="1411.6" y="1135.0" width="16.0" height="16.0"/>
<rect x="1396.4" y="1148.4" width="16.0" height="16.0"/>
<rect x="1408.8" y="1147.4" width="16.0" height="16.0"/>
<rect x="1524.7" y="874.3" width="16.0" height="16.0"/>
<rect x="1675.8" y="895.3" width="16.0" height="16.0"/>
<rect x="1659.6" y="957.3" width="16.0" height="16.0"/>
<rect x="1528.5" y="1003.4" width="16.0" height="16.0"/>
<rect x="1546.7" y="1006.9" width="16.0" height="16.0"/>
<rect x="1674.3" y="1014.9" width="16.0" height="16.0"/>
<rect x="1542.3" y="1034.9" width="16.0" height="16.0"/>
<rect x="1588.0" y="1042.9" width="16.0" height="16.0"/>
<rect x="1641.4" y="1024.4" width="16.0" height="16.0"/>
<rect x="1646.2" y="1033.0" width="16.0" height="16.0"/>
<rect x="1661.5" y="1042.5" width="16.0" height="16.0"/>
<rect x="1664.0" y="1052.1" width="16.0" height="16.0"/>
<rect x="1664.3" y="1058.8" width="16.0" height="16.0"/>
<rect x="1485.0" y="1061.2" width="16.0" height="16.0"/>
<rect x="1536.5" y="1054.9" width="16.0" height="16.0"/>
<rect x="1544.2" y="1066.4" width="16.0" height="16.0"/>
<rect x="1517.5" y="1070.2" width="16.0" height="16.0"/>
<rect x="1530.8" y="1069.2" width="16.0" height="16.0"/>
<rect x="1523.2" y="1084.5" width="16.0" height="16.0"/>
<rect x="1529.9" y="1089.3" width="16.0" height="16.0"/>
<rect x="1540.4" y="1100.7" width="16.0" height="16.0"/>
<rect x="1487.3" y="1093.1" width="16.0" height="16.0"/>
<rect x="1584.2" y="1082.6" width="16.0" height="16.0"/>
<rect x="1645.6" y="1084.1" width="16.0" height="16.0"/>
<rect x="1666.2" y="1091.2" width="16.0" height="16.0"/>
<rect x="1631.9" y="1098.8" width="16.0" height="16.0"/>
<rect x="1651.0" y="1099.8" width="16.0" height="16.0"/>
<rect x="1635.7" y="1105.5" width="16.0" height="16.0"/>
<rect x="1604.3" y="1114.1" width="16.0" height="16.0"/>
<rect x="1654.8" y="1113.1" width="16.0" height="16.0"/>
<rect x="1639.5" y="1122.7" width="16.0" height="16.0"/>
<rect x="1654.8" y="1124.6" width="16.0" height="16.0"/>
<rect x="1671.0" y="1125.5" width="16.0" height="16.0"/>
<rect x="1612.8" y="1128.4" width="16.0" height="16.0"/>
<rect x="1591.9" y="1136.0" width="16.0" height="16.0"/>
<rect x="1614.7" y="1138.9" width="16.0" height="16.0"/>
<rect x="1580.4" y="1145.5" width="16.0" height="16.0"/>
<rect x="1588.0" y="1153.2" width="16.0" height="16.0"/>
<rect x="1651.0" y="1139.8" width="16.0" height="16.0"/>
<rect x="1656.7" y="1153.2" width="16.0" height="16.0"/>
<rect x="1498.8" y="1134.1" width="16.0" height="16.0"/>
<rect x="1510.8" y="1140.8" width="16.0" height="16.0"/>
<rect x="1534.6" y="1130.3" width="16.0" height="16.0"/>
<rect x="1549.9" y="1136.0" width="16.0" height="16.0"/>
<rect x="1540.4" y="1147.4" width="16.0" height="16.0"/>
<rect x="1375.4" y="635.4" width="16.0" height="16.0"/>
<rect x="1369.7" y="700.2" width="16.0" height="16.0"/>
<rect x="1371.6" y="705.9" width="16.0" height="16.0"/>
<rect x="1373.1" y="809.9" width="16.0" height="16.0"/>
<rect x="1387.4" y="839.8" width="16.0" height="16.0"/>
<rect x="1532.3" y="796.5" width="16.0" height="16.0"/>
<rect x="1654.2" y="801.9" width="16.0" height="16.0"/>
<rect x="1351.5" y="1157.9" width="16.0" height="16.0"/>
<rect x="1348.7" y="1182.3" width="16.0" height="16.0"/>
<rect x="1404.9" y="1154.1" width="16.0" height="16.0"/>
<rect x="1399.2" y="1172.2" width="16.0" height="16.0"/>
<rect x="1393.1" y="1161.7" width="16.0" height="16.0"/>
<rect x="1427.4" y="1184.2" width="16.0" height="16.0"/>
<rect x="1524.1" y="1159.8" width="16.0" height="16.0"/>
<rect x="1536.5" y="1177.9" width="16.0" height="16.0"/>
<rect x="1506.4" y="1174.5" width="16.0" height="16.0"/>
<rect x="1478.4" y="1178.5" width="16.0" height="16.0"/>
<rect x="1588.0" y="1157.0" width="16.0" height="16.0"/>
<rect x="1603.3" y="1157.0" width="16.0" height="16.0"/>
<rect x="1621.4" y="1157.9" width="16.0" height="16.0"/>
<rect x="1571.8" y="1178.9" width="16.0" height="16.0"/>
<rect x="1583.3" y="1174.1" width="16.0" height="16.0"/>
<rect x="1610.9" y="1176.0" width="16.0" height="16.0"/>
<rect x="1616.7" y="1172.2" width="16.0" height="16.0"/>
<rect x="1576.6" y="1190.3" width="16.0" height="16.0"/>
<rect x="1657.7" y="1157.9" width="16.0" height="16.0"/>
<rect x="1635.7" y="1190.3" width="16.0" height="16.0"/>
<rect x="1644.3" y="1205.6" width="16.0" height="16.0"/>
<rect x="1503.2" y="1198.0" width="16.0" height="16.0"/>
<rect x="1538.5" y="1198.3" width="16.0" height="16.0"/>
<rect x="1601.4" y="1207.1" width="16.0" height="16.0"/>
<rect x="1608.1" y="1211.3" width="16.0" height="16.0"/>
<rect x="1670.1" y="1215.5" width="16.0" height="16.0"/>
<rect x="1507.0" y="1215.1" width="16.0" height="16.0"/>
<rect x="1518.4" y="1217.0" width="16.0" height="16.0"/>
<rect x="1552.8" y="1222.8" width="16.0" height="16.0"/>
<rect x="1487.0" y="1223.7" width="16.0" height="16.0"/>
<rect x="1472.7" y="1229.4" width="16.0" height="16.0"/>
<rect x="1526.1" y="1229.4" width="16.0" height="16.0"/>
<rect x="1540.4" y="1232.3" width="16.0" height="16.0"/>
<rect x="1534.6" y="1241.8" width="16.0" height="16.0"/>
<rect x="1575.6" y="1230.4" width="16.0" height="16.0"/>
<rect x="1573.7" y="1243.7" width="16.0" height="16.0"/>
<rect x="1597.6" y="1239.9" width="16.0" height="16.0"/>
<rect x="1593.8" y="1248.5" width="16.0" height="16.0"/>
<rect x="1628.1" y="1225.6" width="16.0" height="16.0"/>
<rect x="1636.7" y="1221.8" width="16.0" height="16.0"/>
<rect x="1620.5" y="1235.2" width="16.0" height="16.0"/>
<rect x="1647.7" y="1247.9" width="16.0" height="16.0"/>
<rect x="1520.9" y="1261.5" width="16.0" height="16.0"/>
<rect x="1548.0" y="1263.8" width="16.0" height="16.0"/>
<rect x="1560.4" y="1260.9" width="16.0" height="16.0"/>
<rect x="1581.9" y="1263.8" width="16.0" height="16.0"/>
<rect x="1592.2" y="1279.6" width="16.0" height="16.0"/>
<rect x="1419.2" y="1224.7" width="16.0" height="16.0"/>
<rect x="1397.3" y="1232.3" width="16.0" height="16.0"/>
<rect x="1422.1" y="1236.1" width="16.0" height="16.0"/>
<rect x="1427.8" y="1241.8" width="16.0" height="16.0"/>
<rect x="1407.8" y="1245.6" width="16.0" height="16.0"/>
<rect x="1419.2" y="1255.2" width="16.0" height="16.0"/>
<rect x="1425.9" y="1251.4" width="16.0" height="16.0"/>
<rect x="1474.6" y="1258.0" width="16.0" height="16.0"/>
<rect x="1478.4" y="1270.4" width="16.0" height="16.0"/>
<rect x="1465.0" y="1275.8" width="16.0" height="16.0"/>
<rect x="1500.3" y="1270.4" width="16.0" height="16.0"/>
<rect x="1496.5" y="1281.9" width="16.0" height="16.0"/>
<rect x="1491.7" y="1287.6" width="16.0" height="16.0"/>
<rect x="1507.9" y="1288.6" width="16.0" height="16.0"/>
<rect x="1433.6" y="1298.1" width="16.0" height="16.0"/>
<rect x="1559.4" y="1300.6" width="16.0" height="16.0"/>
<rect x="1553.7" y="1304.8" width="16.0" height="16.0"/>
<rect x="1556.6" y="1323.8" width="16.0" height="16.0"/>
<rect x="1618.6" y="1281.9" width="16.0" height="16.0"/>
<rect x="1627.1" y="1287.6" width="16.0" height="16.0"/>
<rect x="1624.3" y="1300.0" width="16.0" height="16.0"/>
<rect x="1610.9" y="1307.6" width="16.0" height="16.0"/>
<rect x="1629.0" y="1308.6" width="16.0" height="16.0"/>
<rect x="1625.8" y="1320.0" width="16.0" height="16.0"/>
<rect x="1600.4" y="1339.5" width="16.0" height="16.0"/>
<rect x="1620.5" y="1339.5" width="16.0" height="16.0"/>
<rect x="1487.9" y="1314.3" width="16.0" height="16.0"/>
<rect x="1483.1" y="1320.0" width="16.0" height="16.0"/>
<rect x="1469.8" y="1325.8" width="16.0" height="16.0"/>
<rect x="1485.0" y="1331.5" width="16.0" height="16.0"/>
<rect x="1467.9" y="1339.1" width="16.0" height="16.0"/>
<rect x="1483.1" y="1342.0" width="16.0" height="16.0"/>
<rect x="1494.6" y="1344.8" width="16.0" height="16.0"/>
<rect x="1485.0" y="1353.4" width="16.0" height="16.0"/>
<rect x="1426.9" y="1326.7" width="16.0" height="16.0"/>
<rect x="1435.5" y="1342.0" width="16.0" height="16.0"/>
<rect x="1431.6" y="1359.1" width="16.0" height="16.0"/>
<rect x="1020.6" y="979.6" width="16.0" height="16.0"/>
<rect x="644.3" y="1032.4" width="16.0" height="16.0"/>
<rect x="711.6" y="981.7" width="16.0" height="16.0"/>
<rect x="761.1" y="989.6" width="16.0" height="16.0"/>
<rect x="747.2" y="973.8" width="16.0" height="16.0"/>
<rect x="1061.3" y="1128.2" width="16.0" height="16.0"/>
<rect x="1069.2" y="1142.1" width="16.0" height="16.0"/>
<rect x="1057.3" y="1150.0" width="16.0" height="16.0"/>
<rect x="1077.1" y="1152.0" width="16.0" height="16.0"/>
<rect x="1089.0" y="1167.8" width="16.0" height="16.0"/>
<rect x="1098.9" y="1177.7" width="16.0" height="16.0"/>
<rect x="1081.1" y="1181.7" width="16.0" height="16.0"/>
<rect x="1104.9" y="1187.6" width="16.0" height="16.0"/>
<rect x="1091.0" y="1195.6" width="16.0" height="16.0"/>
<rect x="1118.7" y="1207.4" width="16.0" height="16.0"/>
<rect x="1130.6" y="1215.4" width="16.0" height="16.0"/>
<rect x="1142.5" y="1223.3" width="16.0" height="16.0"/>
<rect x="1158.3" y="1215.4" width="16.0" height="16.0"/>
<rect x="1293.0" y="882.7" width="16.0" height="16.0"/>
<rect x="1304.9" y="898.5" width="16.0" height="16.0"/>
<rect x="1298.9" y="910.4" width="16.0" height="16.0"/>
<rect x="1312.8" y="910.4" width="16.0" height="16.0"/>
<rect x="1285.1" y="870.8" width="16.0" height="16.0"/>
<rect x="1483.1" y="1322.3" width="16.0" height="16.0"/>
<rect x="1473.2" y="1334.2" width="16.0" height="16.0"/>
<rect x="1491.0" y="1338.1" width="16.0" height="16.0"/>
<rect x="1498.9" y="1274.8" width="16.0" height="16.0"/>
<rect x="1495.0" y="1284.7" width="16.0" height="16.0"/>
<rect x="1645.5" y="1100.5" width="16.0" height="16.0"/>
<rect x="1651.4" y="1114.4" width="16.0" height="16.0"/>
<rect x="1641.5" y="1108.4" width="16.0" height="16.0"/>
<rect x="1661.3" y="1126.3" width="16.0" height="16.0"/>
<rect x="1586.1" y="1148.0" width="16.0" height="16.0"/>
<rect x="1597.9" y="1156.0" width="16.0" height="16.0"/>
<rect x="1578.1" y="1175.8" width="16.0" height="16.0"/>
<rect x="1182.1" y="1096.6" width="16.0" height="16.0"/>
<rect x="1190.0" y="1108.4" width="16.0" height="16.0"/>
<rect x="1186.1" y="1124.3" width="16.0" height="16.0"/>
<rect x="1019.7" y="989.6" width="16.0" height="16.0"/>
<rect x="1031.6" y="1005.5" width="16.0" height="16.0"/>
<rect x="1039.5" y="1029.2" width="16.0" height="16.0"/>
<rect x="1045.5" y="1043.1" width="16.0" height="16.0"/>
<rect x="996.0" y="1124.3" width="16.0" height="16.0"/>
<rect x="999.9" y="1144.1" width="16.0" height="16.0"/>
</g>
<g stroke="#0808ff" stroke-width="3.9" fill="none">
<path d="M231.5 200.1L1715 196.6" stroke-dasharray="27.5 21.4"/>
<path d="M613.2 175.6V1419" stroke-dasharray="26.3 22.5"/>
<path d="M665.3 175.6V1419" stroke-dasharray="26.3 22.5"/>
<path d="M844.5 175.6V1419" stroke-dasharray="26.3 22.5"/>
<path d="M921.2 175.6V1419" stroke-dasharray="26.3 22.5"/>
<path d="M1443.5 175.6V1419" stroke-dasharray="26.3 22.5"/>
</g>
<path d="M1757 196.8L1714.4 186.5V207.1z" fill="#0808ff"/>
<rect x="78" y="585" width="2.2" height="2.2" fill="#8a7a88"/>
<g stroke="#111" stroke-width="4.8" fill="none">
<path d="M200.3 160V1422.8"/><path d="M197.9 1420.5L1790 1421.6"/>
</g><g stroke="#111" stroke-width="4.4" fill="none">
<path d="M200 1326.5H225"/>
<path d="M200 1232.6H225"/>
<path d="M200 1138.8H225"/>
<path d="M200 1044.9H225"/>
<path d="M200 951.0H225"/>
<path d="M200 857.2H225"/>
<path d="M200 763.4H225"/>
<path d="M200 669.5H225"/>
<path d="M200 575.6H225"/>
<path d="M200 481.8H225"/>
<path d="M200 388.0H225"/>
<path d="M200 294.1H225"/>
<path d="M200 200.2H225"/>
<path d="M324.7 1395.3V1420"/>
<path d="M449.8 1395.3V1420"/>
<path d="M574.8 1395.3V1420"/>
<path d="M699.9 1395.3V1420"/>
<path d="M825.0 1395.3V1420"/>
<path d="M950.1 1395.3V1420"/>
<path d="M1075.2 1395.3V1420"/>
<path d="M1200.2 1395.3V1420"/>
<path d="M1325.3 1395.3V1420"/>
<path d="M1450.4 1395.3V1420"/>
<path d="M1575.5 1395.3V1420"/>
<path d="M1700.6 1395.3V1420"/>
</g>
<path d="M199.9 121.2L189.8 162.4H209.9z" fill="#111"/>
<path d="M1824.7 1421.8L1783.1 1411.9V1431.7z" fill="#111"/>
</svg></body></html>
